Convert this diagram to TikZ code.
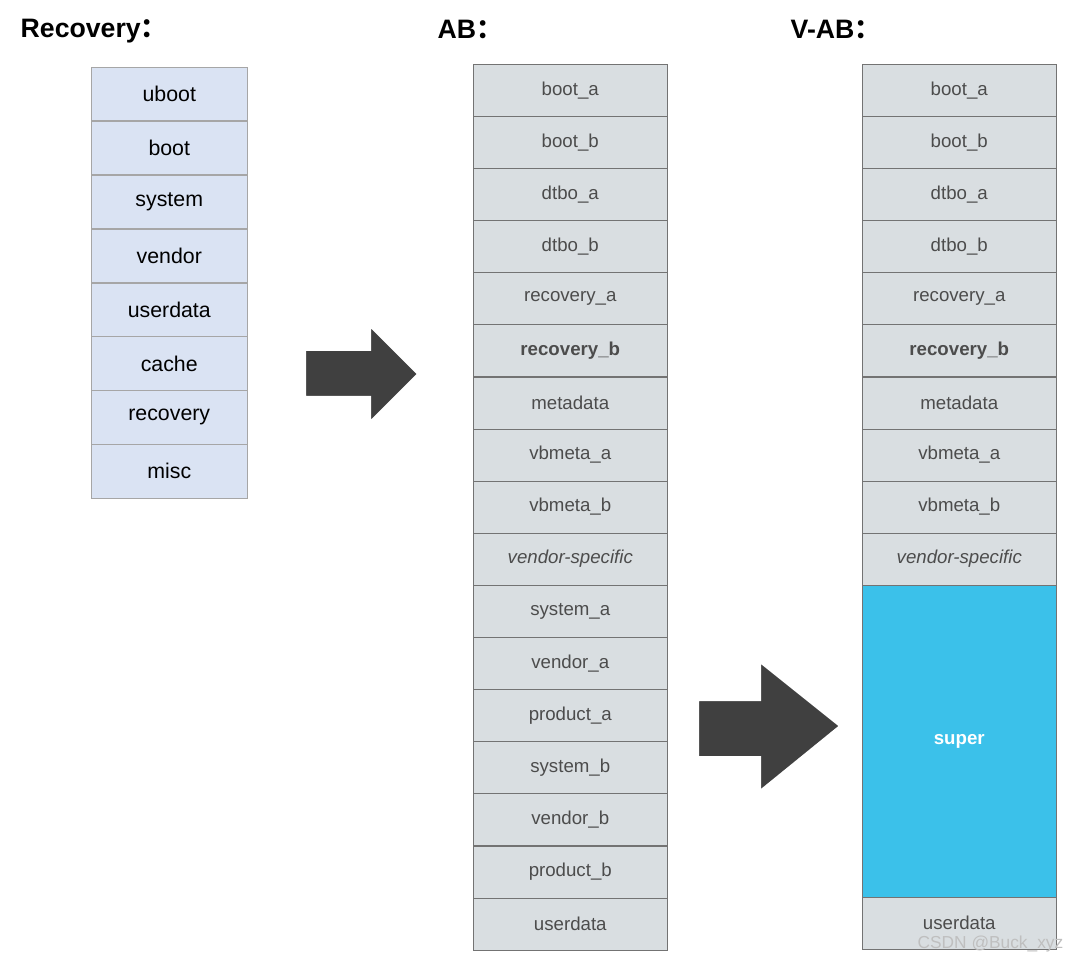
\documentclass[tikz,border=0pt]{standalone}
\usepackage{fontspec}
\setmainfont{Liberation Sans}
\newfontfamily\cjk{Noto Sans CJK SC}
\definecolor{rb}{HTML}{DAE3F3}
\definecolor{ab}{HTML}{D9DEE1}
\definecolor{sp}{HTML}{3BC1EA}
\definecolor{ar}{HTML}{404040}
\begin{document}
\begin{tikzpicture}[x=0.75pt,y=-0.75pt,
  rc/.style={draw=black!35,fill=rb,minimum width=117pt,minimum height=40pt,inner sep=0pt,font=\fontsize{16}{16}\selectfont,anchor=north west},
  ac/.style={draw=black!55,fill=ab,minimum width=145.5pt,minimum height=39pt,inner sep=0pt,text=black!70,font=\fontsize{14}{14}\selectfont,anchor=north west},
  ttl/.style={font=\bfseries\fontsize{20}{20}\selectfont,anchor=west},
  arr/.style={fill=ar,draw=white,line width=1.5pt}]
\useasboundingbox (0,0) rectangle (1071,962);
\node[ttl] (t1) at (16,31) {Recovery{\cjk ：}};
\node[ttl] (t2) at (433,29) {AB{\cjk ：}};
\node[ttl] (t3) at (786,29) {V-AB{\cjk ：}};
\foreach \n/\t [count=\i from 0] in {r0/uboot,r1/boot,r2/system,r3/vendor,r4/userdata,r5/cache,r6/recovery,r7/misc}
  \node[rc] (\n) at (91,{67+\i*53.9}) {\t};
\foreach \n/\t [count=\i from 0] in {a0/boot\_a,a1/boot\_b,a2/dtbo\_a,a3/dtbo\_b,a4/recovery\_a,a5/\textbf{recovery\_b},a6/metadata,a7/vbmeta\_a,a8/vbmeta\_b,a9/\textit{vendor-specific},a10/system\_a,a11/vendor\_a,a12/product\_a,a13/system\_b,a14/vendor\_b,a15/product\_b,a16/userdata}
  \node[ac] (\n) at (473,{64+\i*52.1}) {\t};
\foreach \n/\t [count=\i from 0] in {v0/boot\_a,v1/boot\_b,v2/dtbo\_a,v3/dtbo\_b,v4/recovery\_a,v5/\textbf{recovery\_b},v6/metadata,v7/vbmeta\_a,v8/vbmeta\_b,v9/\textit{vendor-specific}}
  \node[ac] (\n) at (862,{64+\i*52.1}) {\t};
\node[ac,fill=sp,minimum height=234pt,text=white,font=\bfseries\fontsize{14}{14}\selectfont] (sup) at (862,585) {super};
\node[ac] (vu) at (862,897) {userdata};
\draw[arr] (305,350) -- (370,350) -- (370,326) -- (418,374) -- (370,422) -- (370,397) -- (305,397) -- cycle;
\draw[arr] (698,700) -- (760,700) -- (760,662) -- (840,726) -- (760,791) -- (760,757) -- (698,757) -- cycle;
\node[text=black!25,font=\fontsize{13}{13}\selectfont,anchor=east] (wm) at (1068,944) {CSDN @Buck\_xyz};
\end{tikzpicture}
\end{document}
